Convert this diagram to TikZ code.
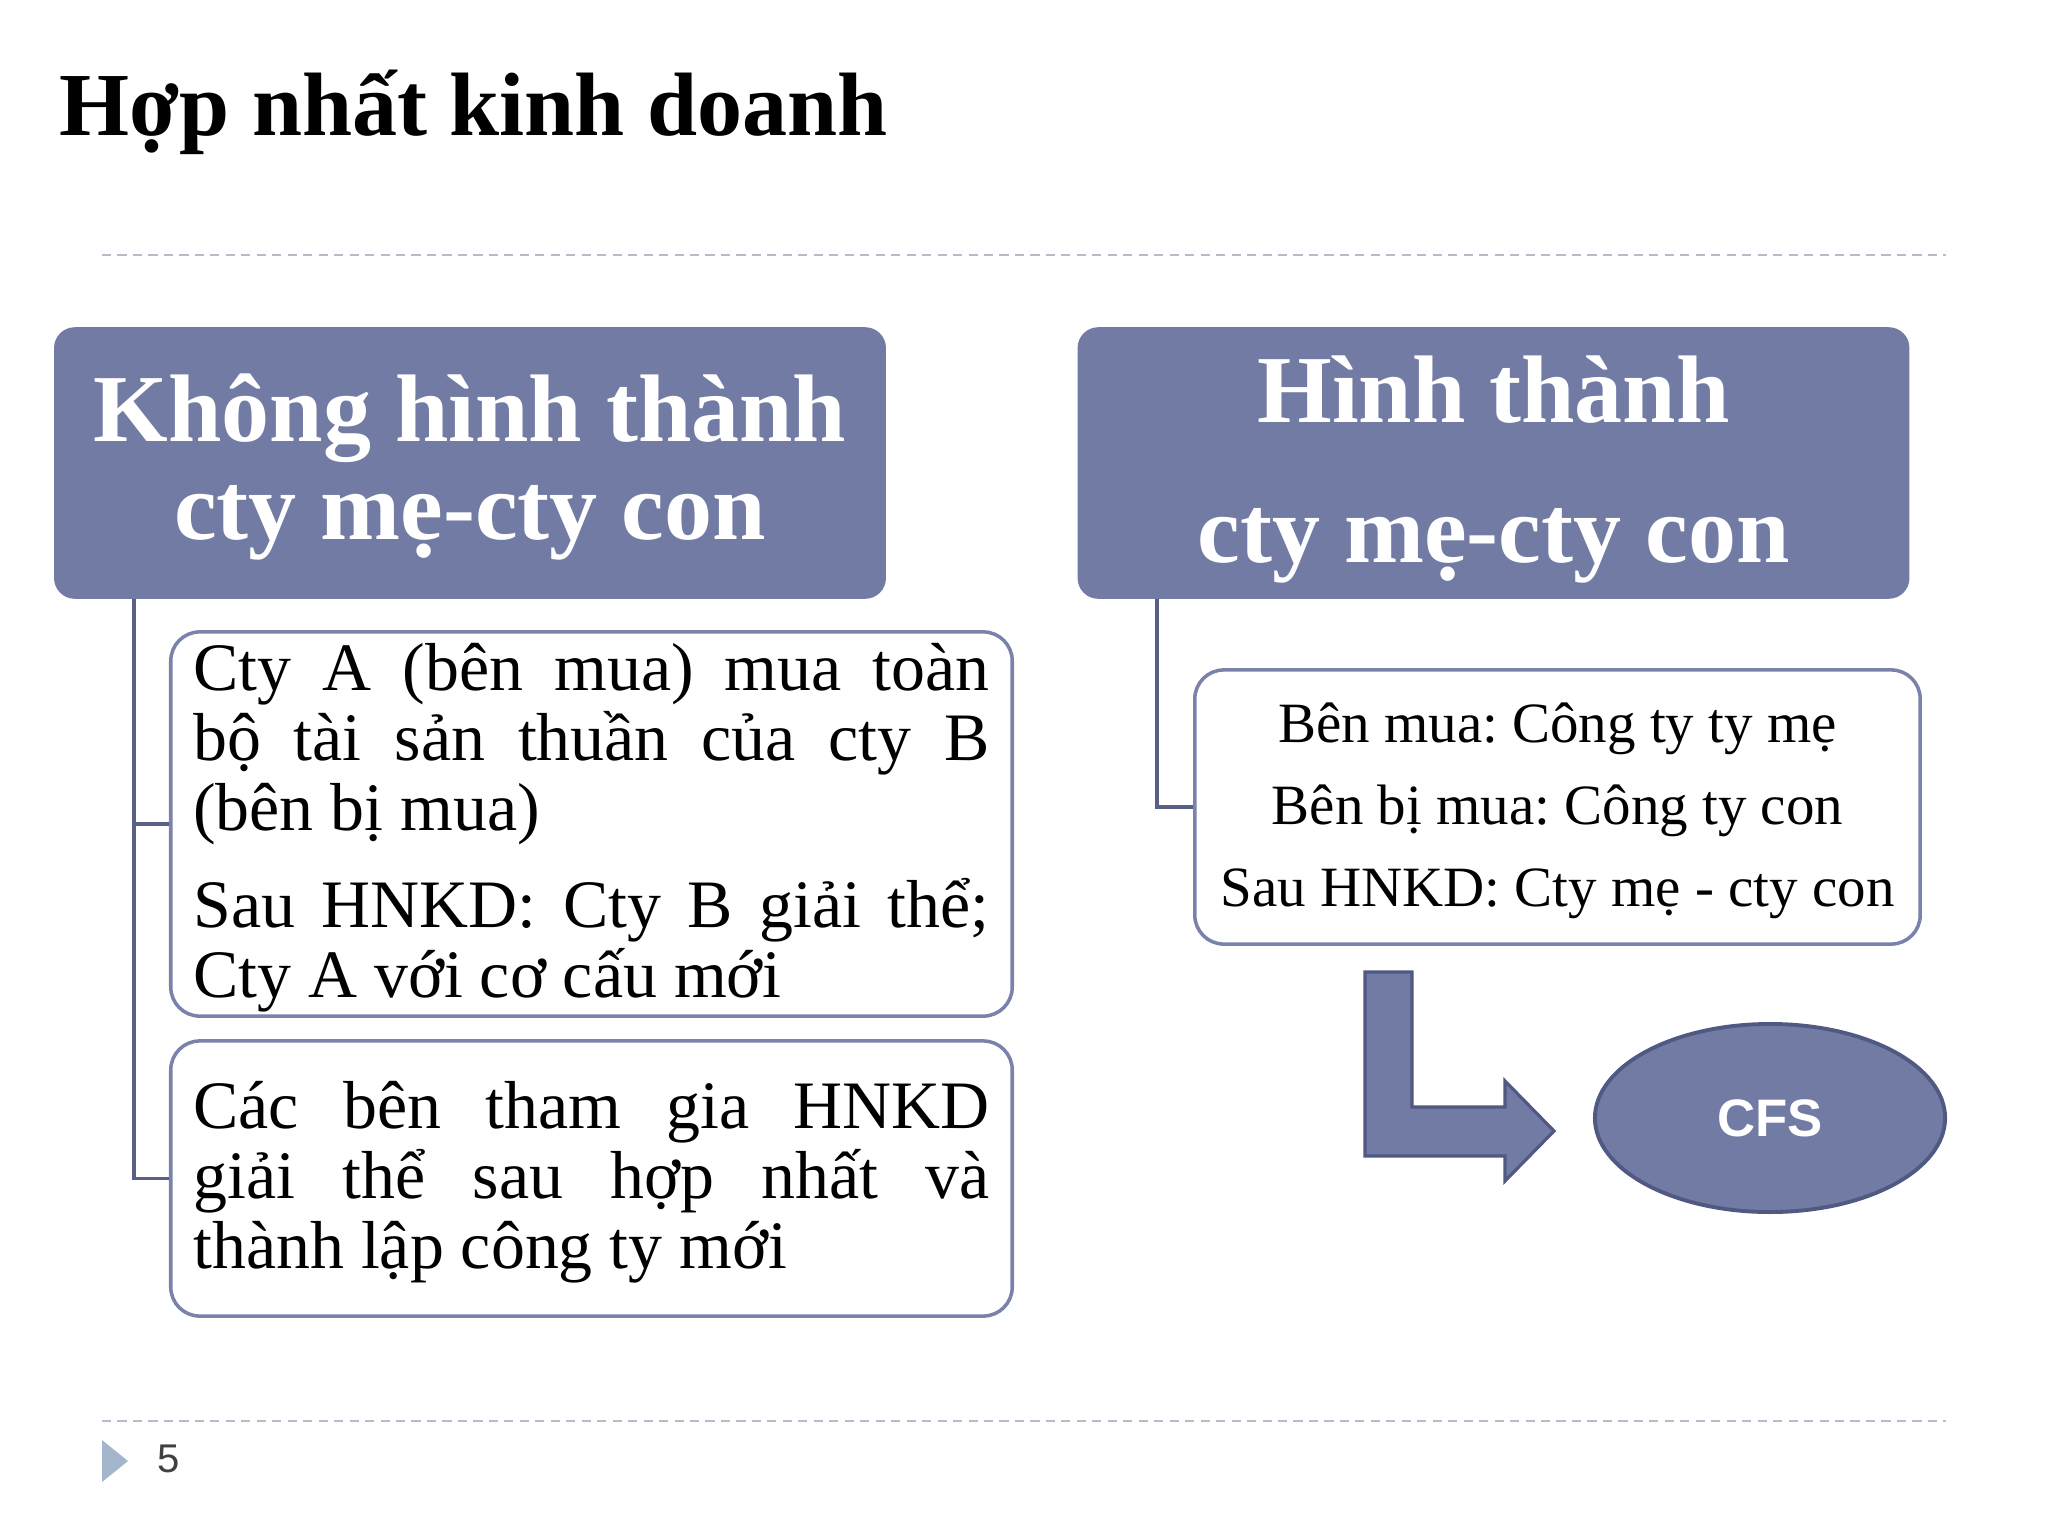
\documentclass[tikz,border=0pt]{standalone}
\usepackage{fontspec}
\setmainfont{Liberation Serif}
\setsansfont{Liberation Sans}
\usetikzlibrary{shapes.geometric}
\frenchspacing

\definecolor{hdrfill}{RGB}{114,123,164}
\definecolor{hdrline}{RGB}{80,89,130}
\definecolor{boxline}{RGB}{122,130,170}
\definecolor{linkcol}{RGB}{88,96,135}
\definecolor{rulegray}{RGB}{178,188,202}
\definecolor{tribg}{RGB}{163,182,203}

% one justified line of the left boxes
\newcommand{\jline}[1]{\makebox[7.96cm][s]{#1}}
% pushes a block of lines a little down in its box
\newcommand{\lift}[1]{\rule{0pt}{#1}}

\begin{document}
\begin{tikzpicture}[x=0.01cm, y=-0.01cm,
    hdr/.style={draw=hdrfill, fill=hdrfill, rounded corners=0.2cm, inner sep=0,
        minimum width=8.3cm, minimum height=2.7cm, text=white, align=center},
    txtbox/.style={draw=boxline, line width=1pt, fill=white, rounded corners=0.29cm,
        inner sep=0, font=\fontsize{19.3}{19.9}\selectfont},
    link/.style={draw=linkcol, line width=1.1pt},
    rule/.style={draw=rulegray, line width=0.8pt, dash pattern=on 2.6pt off 1.8pt}]
    \useasboundingbox (0,0) rectangle (2048,1536);
    \fill[white] (0,0) rectangle (2048,1536);

    \node[anchor=base west, inner sep=0, font=\bfseries\fontsize{25.6}{30}\selectfont]
        (title) at (59,135) {Hợp nhất kinh doanh};

    \draw[rule] (102,255) -- (1946,255);
    \draw[rule] (102,1421) -- (1946,1421);

    %left column
    \node[hdr, font=\bfseries\fontsize{27.3}{27.9}\selectfont] (hdrL) at (470,463)
        {\lift{21.7pt}Không hình thành\\cty mẹ-cty con};
    \node[txtbox, minimum width=8.41cm, minimum height=3.84cm, align=left] (boxA) at (591.5,824)
        {\lift{15.5pt}\jline{Cty A (bên mua) mua toàn}\\
         \jline{bộ tài sản thuần của cty B}\\
         (bên bị mua)\\[7.7pt]
         \jline{Sau HNKD: Cty B giải thể;}\\
         Cty A với cơ cấu mới};
    \node[txtbox, minimum width=8.41cm, minimum height=2.75cm, align=left] (boxB) at (591.5,1178.5)
        {\lift{15.5pt}\jline{Các bên tham gia HNKD}\\
         \jline{giải thể sau hợp nhất và}\\
         thành lập công ty mới};
    \draw[link] ([xshift=0.8cm]hdrL.south west) |- (boxB.west);
    \draw[link] ([xshift=0.8cm]hdrL.south west |- boxA.west) -- (boxA.west);

    %right column
    \node[hdr, font=\bfseries\fontsize{27.3}{39.8}\selectfont] (hdrR) at (1493.5,463)
        {\lift{22.5pt}Hình thành\\cty mẹ-cty con};
    \node[txtbox, minimum width=7.25cm, minimum height=2.74cm, align=center,
        font=\fontsize{16.2}{23.3}\selectfont] (boxC) at (1557.5,807)
        {\lift{13.4pt}Bên mua: Công ty ty mẹ\\Bên bị mua: Công ty con\\Sau HNKD: Cty mẹ - cty con};
    \draw[link] ([xshift=0.79cm]hdrR.south west) |- (boxC.west);

    \filldraw[fill=hdrfill, draw=hdrline, line width=0.9pt]
        (1365,972) -- (1412,972) -- (1412,1107) -- (1505,1107) -- (1505,1081)
        -- (1554,1131) -- (1505,1181) -- (1505,1156) -- (1365,1156) -- cycle;
    \node[ellipse, draw=hdrline, line width=1.1pt, fill=hdrfill, inner sep=0,
        minimum width=3.5cm, minimum height=1.88cm, text=white,
        font=\sffamily\bfseries\fontsize{15}{18}\selectfont] (cfs) at (1770,1118) {CFS};

    %footer
    \fill[tribg] (102,1440) -- (128,1461) -- (102,1482) -- cycle;
    \node[anchor=west, inner sep=0, text=black!75, font=\sffamily\fontsize{11.4}{13}\selectfont]
        (pagenum) at (157,1459) {5};
\end{tikzpicture}
\end{document}
